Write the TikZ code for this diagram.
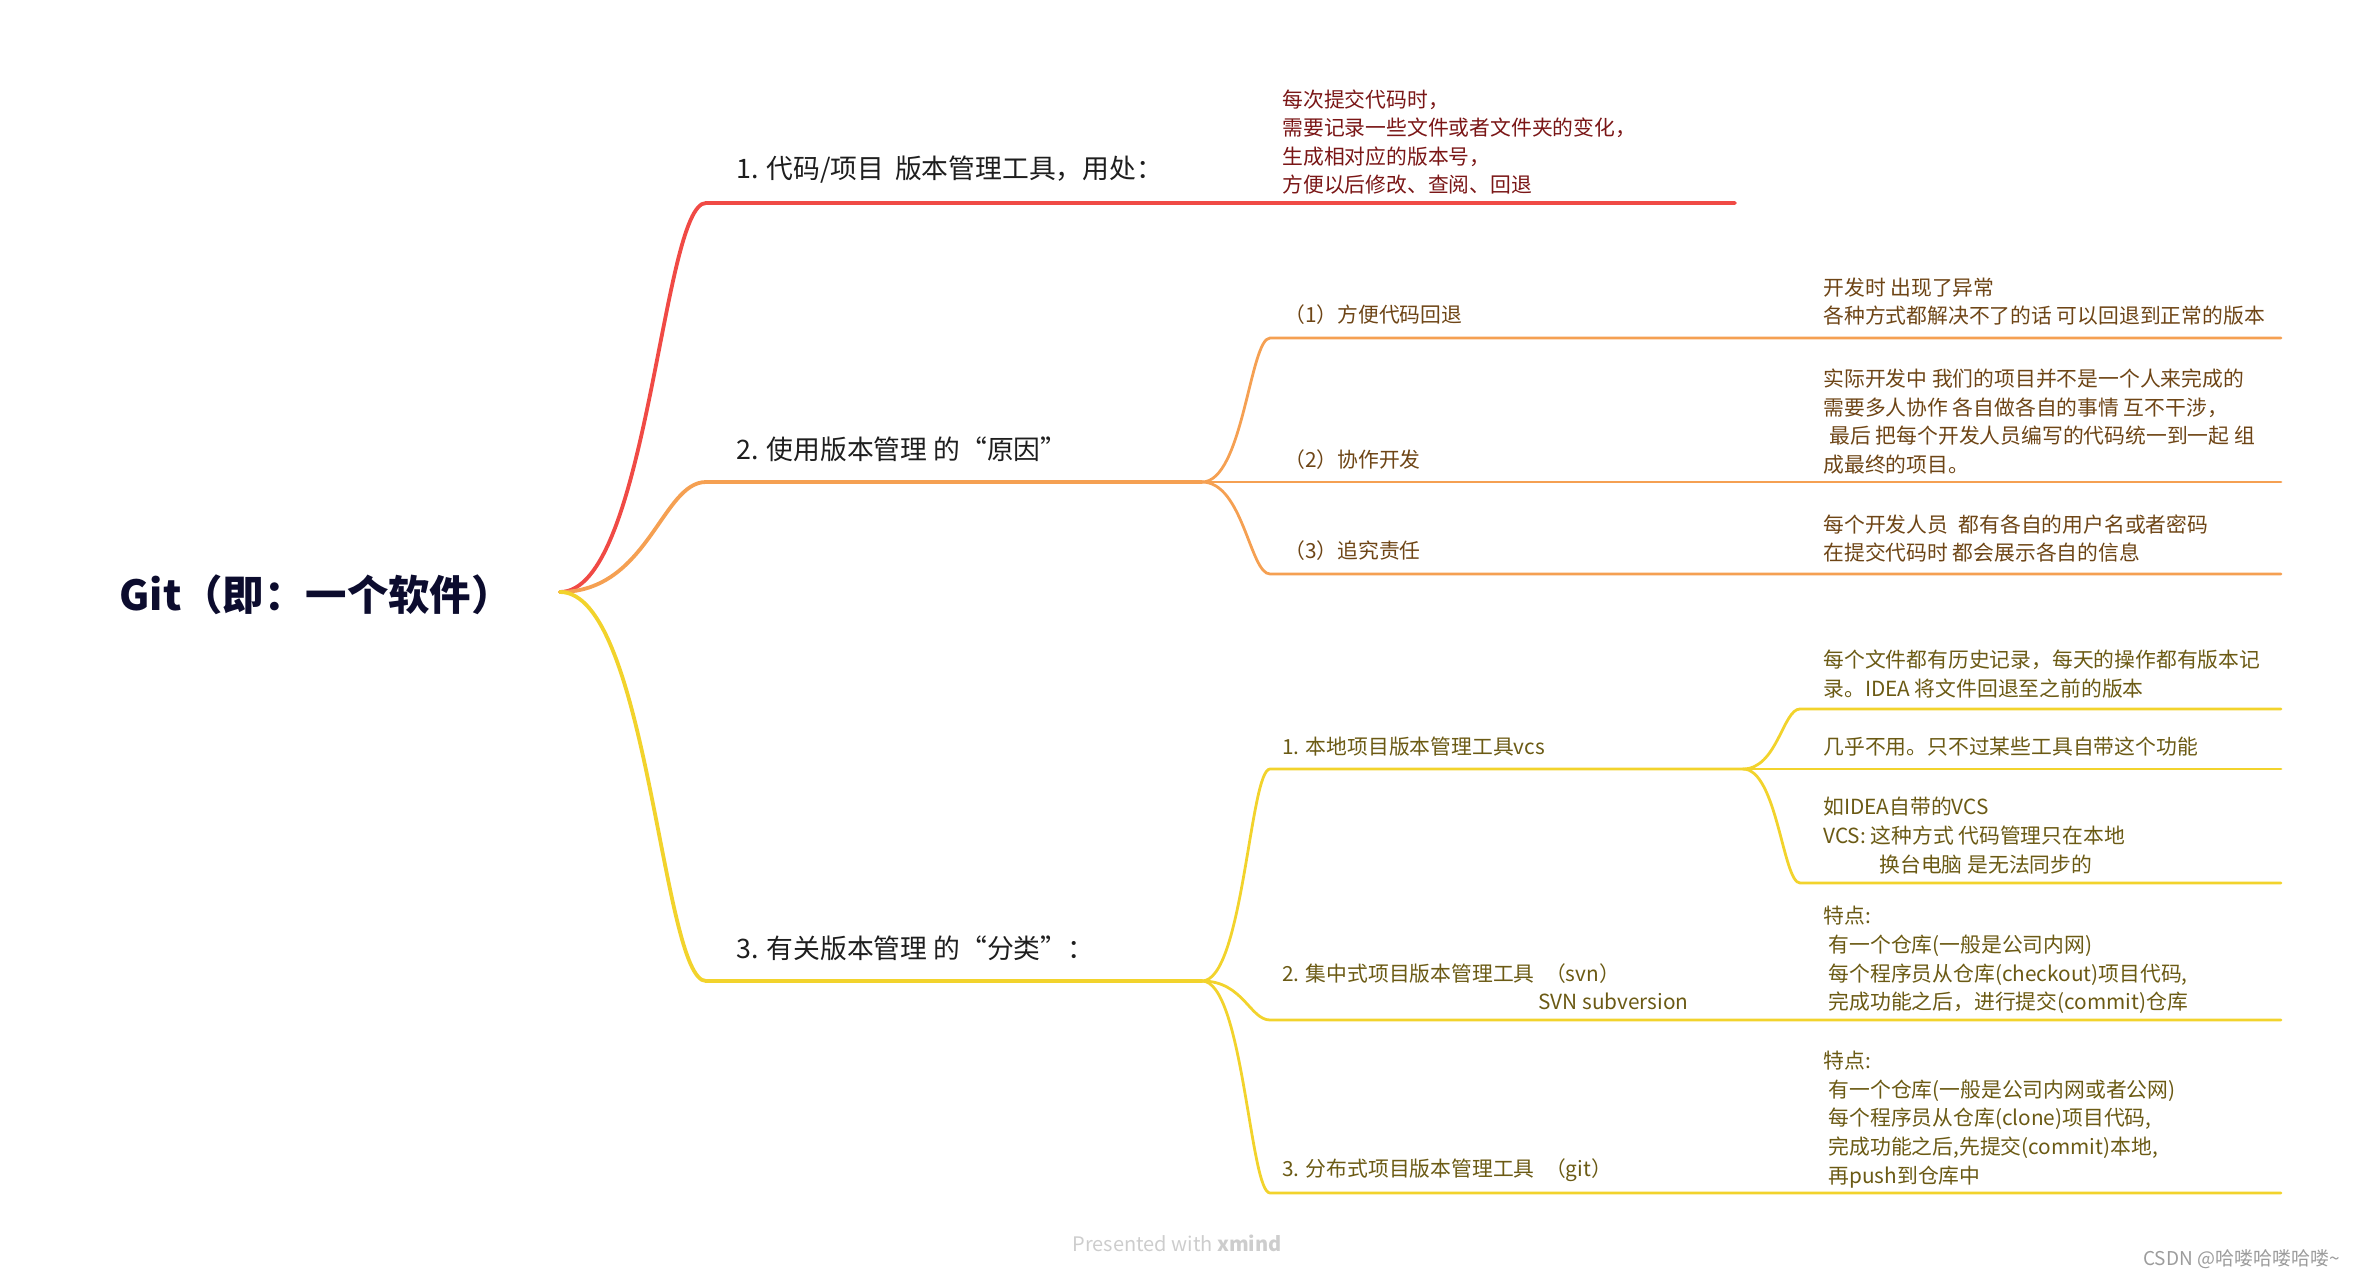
\documentclass[tikz,border=0pt]{standalone}
\usepackage{fontspec}
\setmainfont{Noto Sans CJK SC}
\definecolor{redc}{HTML}{F04A45}
\definecolor{orc}{HTML}{F5A052}
\definecolor{yelc}{HTML}{F2D32C}
\definecolor{rootc}{HTML}{0C0C2E}
\definecolor{maint}{HTML}{1E1E1E}
\definecolor{rednote}{HTML}{7A1616}
\definecolor{brnote}{HTML}{6E4516}
\definecolor{olnote}{HTML}{6B5A14}
\definecolor{foot}{HTML}{CDCDCD}
\definecolor{mark}{HTML}{9C9C9C}
\tikzset{
  roottext/.style={font=\fontsize{20.7pt}{24pt}\selectfont\bfseries, text=rootc, anchor=west, inner sep=0pt},
  mainlab/.style={font=\fontsize{13.4pt}{16pt}\selectfont, text=maint, anchor=west, inner sep=0pt},
  sublab/.style={font=\fontsize{10.4pt}{14.3pt}\selectfont, anchor=west, inner sep=0pt},
  notetext/.style={font=\fontsize{10.4pt}{14.3pt}\selectfont, align=left, anchor=west, inner sep=0pt},
  mainline/.style={line width=1.9pt, line cap=round},
  subline/.style={line width=1.4pt, line cap=round},
}
\begin{document}
\begin{tikzpicture}[x=0.5pt,y=-0.5pt]
\useasboundingbox (0,0) rectangle (2356,1279);
% root
\node[roottext] (root) at (119,595) {Git（即：一个软件）};
\coordinate (rj) at (560,592);
% branch 1
\coordinate (b1s) at (706,203);
\coordinate (b1e) at (1735,203);
\draw[mainline, redc] (rj) .. controls +(88,0) and +(-44,0) .. (b1s) -- (b1e);
\node[mainlab] (l1) at (736,170) {1. 代码/项目\hspace{0.4em}版本管理工具，用处：};
\node[notetext, text=rednote] (n1) at (1282,142) {每次提交代码时，\\需要记录一些文件或者文件夹的变化，\\生成相对应的版本号，\\方便以后修改、查阅、回退};
% branch 2
\coordinate (b2s) at (706,482);
\coordinate (b2j) at (1202,482);
\draw[mainline, orc] (rj) .. controls +(88,0) and +(-44,0) .. (b2s) -- (b2j);
\node[mainlab] (l2) at (736,449) {2. 使用版本管理 的“原因”};
\coordinate (s21) at (1270,338);
\coordinate (s21e) at (2281,338);
\coordinate (s22e) at (2281,482);
\coordinate (s23) at (1270,574);
\coordinate (s23e) at (2281,574);
\draw[subline, orc] (b2j) .. controls +(41,0) and +(-20,0) .. (s21) -- (s21e);
\draw[subline, orc] (b2j) -- (s22e);
\draw[subline, orc] (b2j) .. controls +(41,0) and +(-20,0) .. (s23) -- (s23e);
\node[sublab, text=brnote] (l21) at (1284,315) {（1）方便代码回退};
\node[sublab, text=brnote] (l22) at (1284,460) {（2）协作开发};
\node[sublab, text=brnote] (l23) at (1284,551) {（3）追究责任};
\node[notetext, text=brnote] (n21) at (1823,301.5) {开发时 出现了异常\\各种方式都解决不了的话 可以回退到正常的版本};
\node[notetext, text=brnote] (n22) at (1823,421.5) {实际开发中 我们的项目并不是一个人来完成的\\需要多人协作 各自做各自的事情 互不干涉，\\\hspace{0.3em}最后 把每个开发人员编写的代码统一到一起 组\\成最终的项目。};
\node[notetext, text=brnote] (n23) at (1823,538.5) {每个开发人员\hspace{0.5em}都有各自的用户名或者密码\\在提交代码时 都会展示各自的信息};
% branch 3
\coordinate (b3s) at (706,981);
\coordinate (b3j) at (1202,981);
\draw[mainline, yelc] (rj) .. controls +(88,0) and +(-44,0) .. (b3s) -- (b3j);
\node[mainlab] (l3) at (736,948) {3. 有关版本管理 的“分类”：};
\coordinate (s31) at (1270,769);
\coordinate (s31j) at (1743,769);
\coordinate (s32) at (1270,1020);
\coordinate (s32e) at (2281,1020);
\coordinate (s33) at (1270,1193);
\coordinate (s33e) at (2281,1193);
\draw[subline, yelc] (b3j) .. controls +(41,0) and +(-20,0) .. (s31) -- (s31j);
\draw[subline, yelc] (b3j) .. controls +(41,0) and +(-20,0) .. (s32) -- (s32e);
\draw[subline, yelc] (b3j) .. controls +(41,0) and +(-20,0) .. (s33) -- (s33e);
\coordinate (t1) at (1800,709);
\coordinate (t1e) at (2281,709);
\coordinate (t2e) at (2281,769);
\coordinate (t3) at (1800,883);
\coordinate (t3e) at (2281,883);
\draw[subline, yelc] (s31j) .. controls +(34,0) and +(-17,0) .. (t1) -- (t1e);
\draw[subline, yelc] (s31j) -- (t2e);
\draw[subline, yelc] (s31j) .. controls +(34,0) and +(-17,0) .. (t3) -- (t3e);
\node[sublab, text=olnote] (l31) at (1282,747) {1. 本地项目版本管理工具vcs};
\node[sublab, text=olnote] (l32) at (1282,974) {2. 集中式项目版本管理工具\hspace{0.5em}（svn）};
\node[sublab, text=olnote, anchor=east] (l32b) at (1689,1001) {SVN subversion};
\node[sublab, text=olnote] (l33) at (1282,1170) {3. 分布式项目版本管理工具\hspace{0.5em}（git）};
\node[notetext, text=olnote] (n31a) at (1823,674) {每个文件都有历史记录，每天的操作都有版本记\\录。IDEA 将文件回退至之前的版本};
\node[notetext, text=olnote] (n31b) at (1823,747) {几乎不用。只不过某些工具自带这个功能};
\node[notetext, text=olnote] (n31c) at (1823,835.5) {如IDEA自带的VCS\\VCS: 这种方式 代码管理只在本地\\\hspace{2.7em}换台电脑 是无法同步的};
\node[notetext, text=olnote] (n32) at (1823,960) {特点:\\\hspace{0.25em}有一个仓库(一般是公司内网)\\\hspace{0.25em}每个程序员从仓库(checkout)项目代码,\\\hspace{0.25em}完成功能之后，进行提交(commit)仓库};
\node[notetext, text=olnote] (n33) at (1823,1119.5) {特点:\\\hspace{0.25em}有一个仓库(一般是公司内网或者公网)\\\hspace{0.25em}每个程序员从仓库(clone)项目代码,\\\hspace{0.25em}完成功能之后,先提交(commit)本地,\\\hspace{0.25em}再push到仓库中};
% footer
\node[font=\fontsize{10pt}{12pt}\selectfont, text=foot, inner sep=0pt] (pw) at (1177,1243) {Presented with \textbf{xmind}};
\node[font=\fontsize{9.5pt}{12pt}\selectfont, text=mark, anchor=east, inner sep=0pt] (wm) at (2340,1259) {CSDN @哈喽哈喽哈喽\textasciitilde};
\end{tikzpicture}
\end{document}
